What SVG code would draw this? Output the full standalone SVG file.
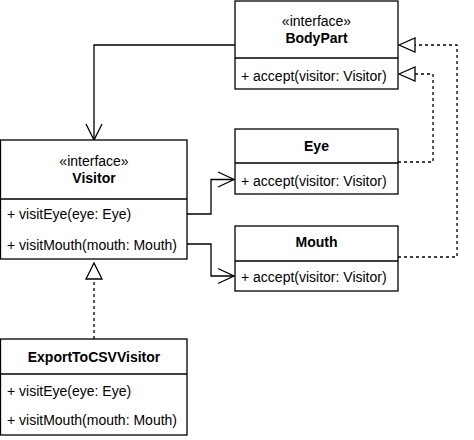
<svg xmlns="http://www.w3.org/2000/svg" width="474" height="440" viewBox="0 0 474 440">
<style>
.box{fill:#fff;stroke:#000;stroke-width:1.3}
.line{fill:none;stroke:#000;stroke-width:1.3}
.dash{fill:none;stroke:#000;stroke-width:1.3;stroke-dasharray:3 3}
.tri{fill:#fff;stroke:#000;stroke-width:1.3}
text{font-family:"Liberation Sans",Arial,sans-serif;font-size:14px;fill:#000}
.c{text-anchor:middle}
.b{font-weight:bold}
</style>
<rect width="474" height="440" fill="#fff"/>
<g id="connectors">
  <path class="line" d="M235,45 H94 V140"/>
  <path class="line" d="M86,124 L94,140 L102,124"/>
  <path class="line" d="M187,214 H211 V179.5 H234"/>
  <path class="line" d="M218,172 L234,179.5 L218,187"/>
  <path class="line" d="M187,244 H211 V276 H234"/>
  <path class="line" d="M218,268.5 L234,276 L218,283.5"/>
  <path class="dash" d="M398,162 H433 V74 H415"/>
  <path class="tri" d="M399,74 L415,67 L415,81 Z"/>
  <path class="dash" d="M398,257 H457 V45 H415"/>
  <path class="tri" d="M399,45 L415,38 L415,52 Z"/>
  <path class="dash" d="M94,339 V279"/>
  <path class="tri" d="M94,263 L86,279 L102,279 Z"/>
</g>
<g id="BodyPart">
  <rect class="box" x="235" y="1" width="163" height="88"/>
  <line class="line" x1="235" y1="58" x2="398" y2="58"/>
  <text class="c" x="316.5" y="26">«interface»</text>
  <text class="c b" x="316.5" y="43">BodyPart</text>
  <text x="241" y="81">+ accept(visitor: Visitor)</text>
</g>
<g id="Visitor">
  <rect class="box" x="0.5" y="140" width="186.5" height="119"/>
  <line class="line" x1="0.5" y1="199" x2="187" y2="199"/>
  <text class="c" x="94" y="166">«interface»</text>
  <text class="c b" x="94" y="183">Visitor</text>
  <text x="7" y="219">+ visitEye(eye: Eye)</text>
  <text x="7" y="250">+ visitMouth(mouth: Mouth)</text>
</g>
<g id="Eye">
  <rect class="box" x="235" y="129" width="163" height="65"/>
  <line class="line" x1="235" y1="163" x2="398" y2="163"/>
  <text class="c b" x="316.5" y="151">Eye</text>
  <text x="241" y="186">+ accept(visitor: Visitor)</text>
</g>
<g id="Mouth">
  <rect class="box" x="235" y="226" width="163" height="65"/>
  <line class="line" x1="235" y1="261" x2="398" y2="261"/>
  <text class="c b" x="316.5" y="247">Mouth</text>
  <text x="241" y="282">+ accept(visitor: Visitor)</text>
</g>
<g id="ExportToCSVVisitor">
  <rect class="box" x="0.5" y="339" width="186.5" height="96"/>
  <line class="line" x1="0.5" y1="374" x2="187" y2="374"/>
  <text class="c b" x="94" y="362">ExportToCSVVisitor</text>
  <text x="7" y="396">+ visitEye(eye: Eye)</text>
  <text x="7" y="425">+ visitMouth(mouth: Mouth)</text>
</g>
</svg>
